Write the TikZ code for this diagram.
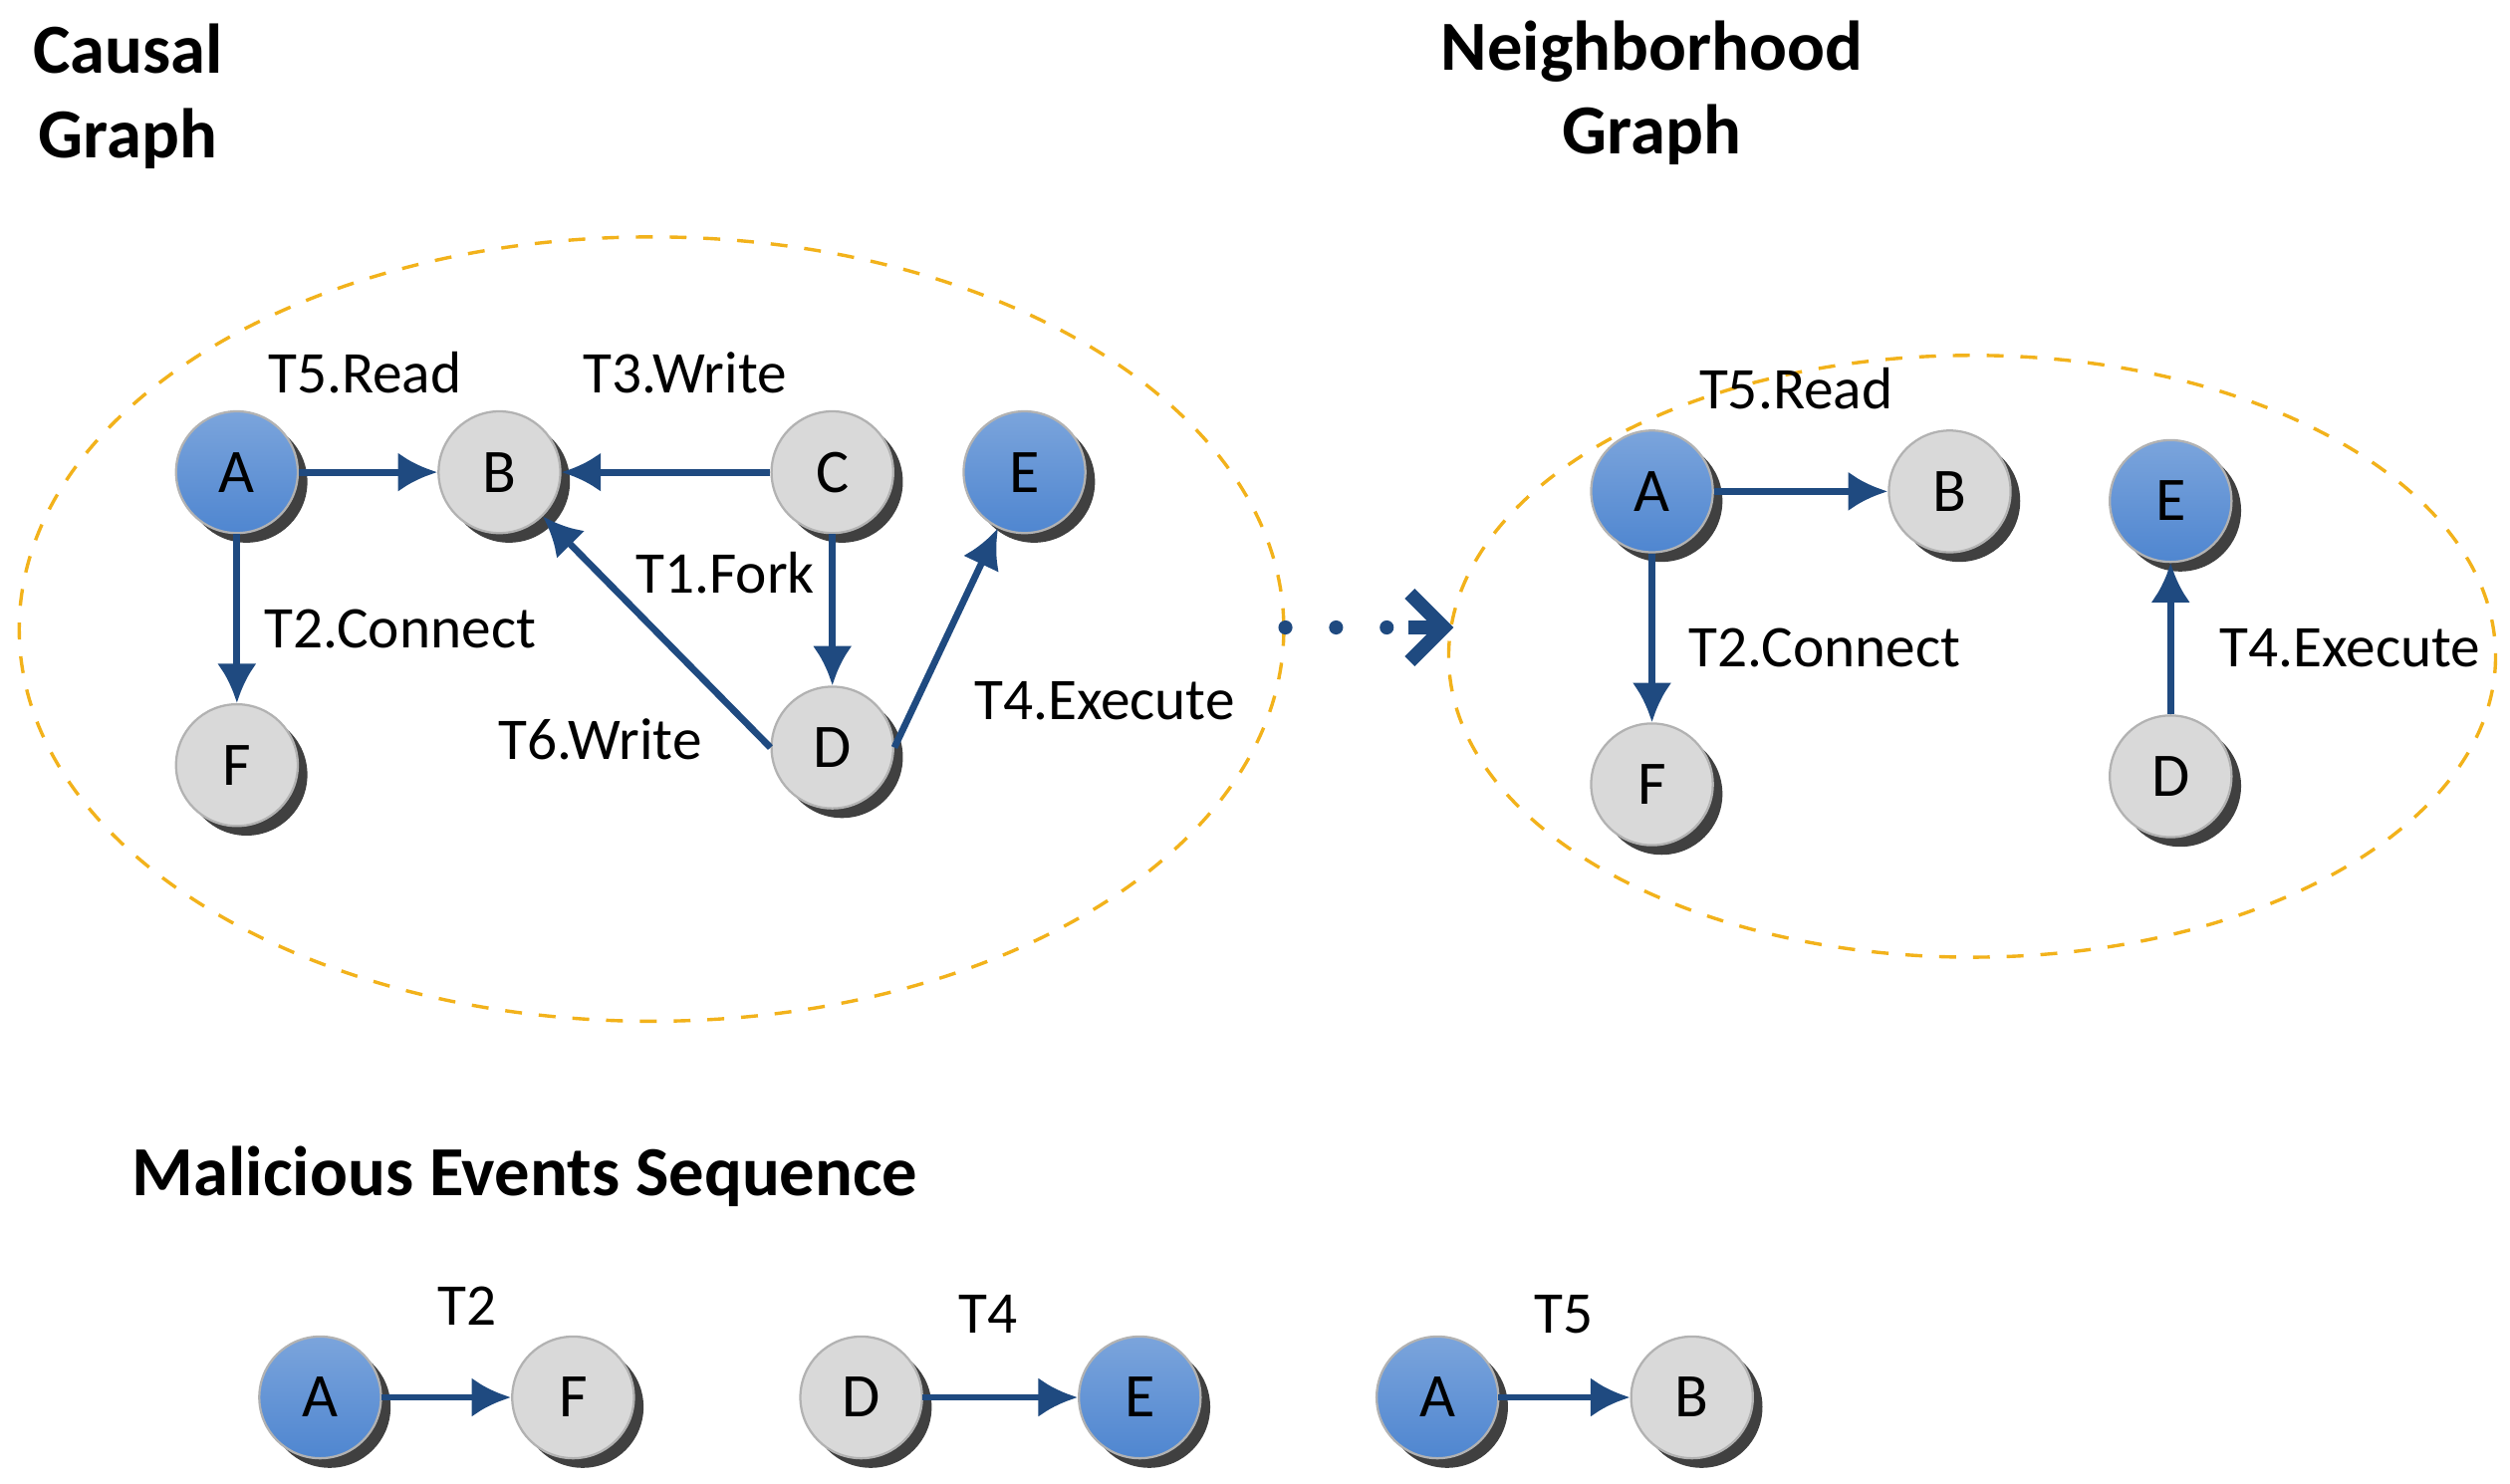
\documentclass[tikz,border=0pt]{standalone}
\usepackage{fontspec}
\setmainfont{Carlito}
\usetikzlibrary{shadows,arrows.meta}
\definecolor{edgeblue}{HTML}{1F4A80}
\definecolor{nodeblue}{HTML}{4F86D0}
\definecolor{nodegray}{HTML}{D9D9D9}
\definecolor{ringorange}{HTML}{F2B21B}
\tikzset{
	ev/.style={circle,minimum size=0.76cm,inner sep=0pt,draw=gray!60,font=\fontsize{11pt}{11pt}\selectfont,
		drop shadow={shadow xshift=0.06cm,shadow yshift=-0.06cm,fill=black!75,opacity=1}},
	mal/.style={ev,top color=nodeblue!75,bottom color=nodeblue},
	ben/.style={ev,fill=nodegray},
	link/.style={draw=edgeblue,line width=1.2pt,-{Latex[length=7pt,width=7pt]}},
	lbl/.style={font=\fontsize{10.5pt}{12pt}\selectfont},
	ttl/.style={font=\bfseries\fontsize{12.5pt}{15pt}\selectfont,align=center},
	ring/.style={draw=ringorange,dashed,line width=0.6pt}
}
\begin{document}
\begin{tikzpicture}[x=0.01cm,y=-0.01cm]
				\useasboundingbox (0,0) rectangle (1568,927);
				\node[ttl] (t1) at (80,60) {Causal\\Graph};
				\node[ttl] (t2) at (1032,58) {Neighborhood\\Graph};
				\node[ttl] (t3) at (328,735) {Malicious Events Sequence};
				\draw[ring] (407,393) ellipse (395 and 245);
				\draw[ring] (1232,410) ellipse (327 and 188);
				%--
				\node[mal] (A) at (148,295) {A};
				\node[ben] (B) at (312,295) {B};
				\node[ben] (C) at (520,295) {C};
				\node[mal] (E) at (640,295) {E};
				\node[ben] (F) at (148,478) {F};
				\node[ben] (D) at (520,467) {D};
				\draw[link] (A) -- (B);
				\draw[link] (C) -- (B);
				\draw[link] (A) -- (F);
				\draw[link] (C) -- (D);
				\draw[link] (D.west) -- (B);
				\draw[link] (D.east) -- (E);
				\node[lbl] at (228,233) {T5.Read};
				\node[lbl] at (428,233) {T3.Write};
				\node[lbl] at (453,358) {T1.Fork};
				\node[lbl] at (250,393) {T2.Connect};
				\node[lbl] at (375,462) {T6.Write};
				\node[lbl] at (690,438) {T4.Execute};
				%--
				\node (d0) at (803,392) {};
				\node (d1) at (908,392) {};
				\draw[edgeblue,line width=2.5pt,line cap=round,dash pattern=on 0pt off 9pt] (803,392) -- (870,392);
				\draw[edgeblue,line width=2.5pt,-{Straight Barb[length=6pt,width=12pt]}] (880,392) -- (908,392);
				%--
				\node[mal] (A') at (1032,307) {A};
				\node[ben] (B') at (1218,307) {B};
				\node[mal] (E') at (1356,313) {E};
				\node[ben] (F') at (1032,490) {F};
				\node[ben] (D') at (1356,485) {D};
				\draw[link] (A'.east) -- (B');
				\draw[link] (A'.south) -- (F');
				\draw[link] (D') -- (E');
				\node[lbl] at (1122,243) {T5.Read};
				\node[lbl] at (1140,405) {T2.Connect};
				\node[lbl] at (1468,405) {T4.Execute};
				%--
				\node[mal] (A1) at (200,873) {A};
				\node[ben] (F1) at (358,873) {F};
				\node[ben] (D1) at (538,873) {D};
				\node[mal] (E1) at (712,873) {E};
				\node[mal] (A2) at (898,873) {A};
				\node[ben] (B2) at (1057,873) {B};
				\draw[link] (A1.center)+(38,0) -- (F1);
				\draw[link] (D1.center)+(38,0) -- (E1);
				\draw[link] (A2.center)+(38,0) -- (B2);
				\node[lbl] at (292,816) {T2};
				\node[lbl] at (617,821) {T4};
				\node[lbl] at (977,821) {T5};
			\end{tikzpicture}
\end{document}
